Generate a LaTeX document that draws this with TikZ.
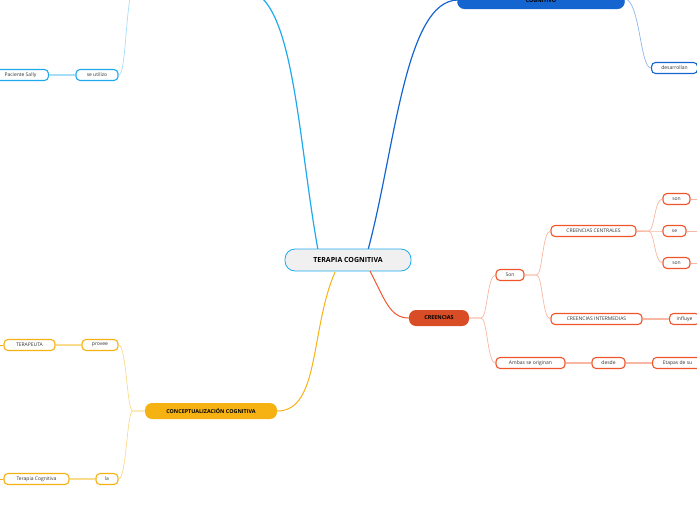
\documentclass[tikz,border=0pt]{standalone}
\usepackage{fontspec}
\setmainfont{Open Sans}
\begin{document}
\begin{tikzpicture}[x=1pt,y=-1pt,
  sub/.style={draw=#1,line width=1.1pt,fill=white,rounded corners=4pt,minimum height=11pt,inner sep=1pt,font=\fontsize{5}{6}\selectfont,text=black!80},
  main/.style={rounded corners=7pt,minimum height=16pt,inner sep=1pt,font=\fontsize{5.4}{6}\selectfont\bfseries,text=black},
  lnk/.style={draw=#1,line width=0.7pt}]
\useasboundingbox (0,0) rectangle (697,520);
\clip (0,0) rectangle (697,520);
\definecolor{bl}{HTML}{1565D0}
\definecolor{cy}{HTML}{1EAAEE}
\definecolor{cyl}{HTML}{A8DDF7}
\definecolor{blt}{HTML}{8FB5EC}
\definecolor{rd}{HTML}{F0562A}
\definecolor{rdl}{HTML}{F8B7A2}
\definecolor{yl}{HTML}{F5B212}
\definecolor{yll}{HTML}{FADB8C}
% main lines
\coordinate (ctop) at (262,-2);
\draw[lnk=cy,line width=1.2pt] (318,250) .. controls (300,150) and (295,30) .. (ctop);
\draw[lnk=bl,line width=1.2pt] (368,250) .. controls (395,150) and (405,0) .. (458,0);
\node[main,draw=bl,fill=bl,minimum width=167pt,minimum height=20pt,text depth=0pt,anchor=south,yshift=0pt] (cog) at (541,9) {\raisebox{-3.5pt}{COGNITIVO}};
\node[sub=bl,minimum width=46pt,anchor=west] (des) at (651,68) {desarrollan};
\draw[lnk=blt] (cog.east) .. controls (640,0) and (640,68) .. (des.west);
% left top
\node[sub=cy,minimum width=56pt,anchor=east] (sally) at (49,75) {Paciente Sally};
\node[sub=cy,minimum width=42pt] (util) at (97,75) {se utilizo};
\draw[lnk=cyl,line width=1.2pt] (sally.east) -- (util.west);
\draw[lnk=cyl] (util.east) .. controls (125,75) and (125,30) .. (130,-2);
% center
\node[main,draw=cy,line width=0.8pt,fill=black!6,font=\fontsize{7}{8}\selectfont\bfseries,minimum width=126pt,minimum height=22pt,rounded corners=10pt] (c) at (348,260) {TERAPIA COGNITIVA};
% creencias
\node[main,fill=rd!90!black,minimum width=60pt] (cr) at (439,318) {CREENCIAS};
\draw[lnk=rd,line width=1pt] (370,271) .. controls (385,300) and (390,318) .. (cr.west);
\node[sub=rd,minimum width=28pt] (son) at (510,275) {Son};
\node[sub=rd,minimum width=69pt] (amb) at (530.5,363) {Ambas se originan};
\node[sub=rd,minimum width=33pt] (desde) at (608.5,363) {desde};
\node[sub=rd,minimum width=50pt,anchor=west] (etap) at (652,363) {Etapas de su};
\node[sub=rd,minimum width=85pt] (cc) at (593.5,231) {CREENCIAS CENTRALES};
\node[sub=rd,minimum width=91pt] (ci) at (596.5,319) {CREENCIAS INTERMEDIAS};
\node[sub=rd,minimum width=30pt,anchor=west] (inf) at (669,319) {influye};
\node[sub=rd,minimum width=27pt] (s1) at (676.5,199) {son};
\node[sub=rd,minimum width=23pt] (s2) at (674.5,231) {se};
\node[sub=rd,minimum width=27pt] (s3) at (676.5,263) {son};
\foreach \a/\b in {cr/son,cr/amb,son/cc,son/ci,cc/s1,cc/s2,cc/s3}
  \draw[lnk=rdl] (\a.east) -- ++(12,0) .. controls +(6,0) and +(-8,0) .. (\b.west);
\draw[lnk=rdl,line width=1.2pt] (amb.east) -- (desde.west) (desde.east) -- (etap.west) (ci.east) -- (inf.west);
\foreach \n in {s1,s2,s3} \draw[lnk=rdl] (\n.east) -- ++(12,0);
% conceptualizacion
\node[main,fill=yl,minimum width=132pt] (cg) at (211,411) {CONCEPTUALIZACIÓN COGNITIVA};
\draw[lnk=yl,line width=1pt] (335,272) .. controls (310,330) and (320,411) .. (cg.east);
\node[sub=yl,minimum width=36pt] (prov) at (100,345) {provee};
\node[sub=yl,minimum width=51pt] (ter) at (29.5,345) {TERAPEUTA};
\node[sub=yl,minimum width=22pt] (la) at (107,479) {la};
\node[sub=yl,minimum width=65pt] (tc) at (36.5,479) {Terapia Cognitiva};
\foreach \b in {prov,la}
  \draw[lnk=yll] (cg.west) -- ++(-12,0) .. controls +(-6,0) and +(8,0) .. (\b.east);
\draw[lnk=yll,line width=1.2pt] (prov.west) -- (ter.east) (la.west) -- (tc.east);
\draw[lnk=yl] (ter.west) -- ++(-6,0) (tc.west) -- ++(-6,0);
\end{tikzpicture}
\end{document}
